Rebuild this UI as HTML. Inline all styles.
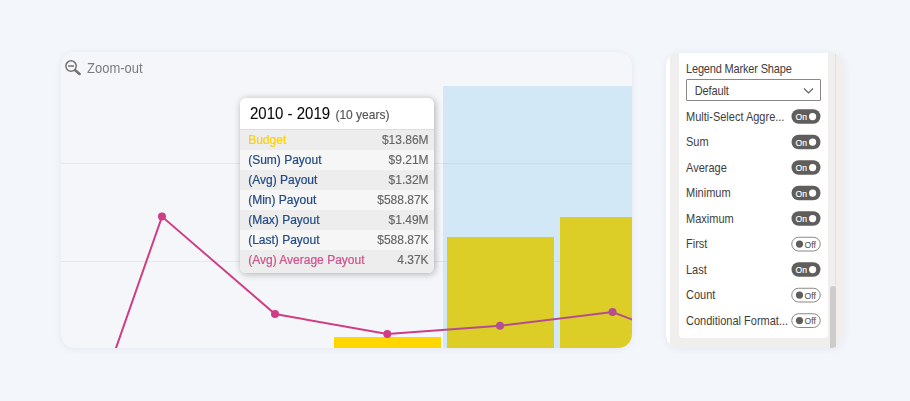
<!DOCTYPE html>
<html><head><meta charset="utf-8">
<style>
*{margin:0;padding:0;box-sizing:border-box}
html,body{width:910px;height:401px;overflow:hidden;background:#F3F6FB;font-family:"Liberation Sans",sans-serif}
.abs{position:absolute}
#card{position:absolute;left:61px;top:52px;width:571px;height:296px;border-radius:14px;background:#F5F6FA;box-shadow:0 1px 7px rgba(50,60,100,0.08);overflow:hidden}
.t{position:absolute;white-space:nowrap;line-height:1}
#card,#tip{will-change:transform}
#tip{position:absolute;left:240px;top:98px;width:194px;height:175px;background:#fff;border-radius:6px;box-shadow:1px 1px 7px rgba(0,0,0,0.30);overflow:hidden}
.row{position:absolute;left:0;width:194px;height:20px}
.row .l{position:absolute;left:8.2px;top:3.6px;-webkit-text-stroke:0.2px currentColor;font-size:12px;line-height:1;white-space:nowrap}
.row .v{position:absolute;right:5.4px;top:3.6px;-webkit-text-stroke:0.15px currentColor;font-size:12px;line-height:1;white-space:nowrap;color:#666}
.d{background:#EDEDED}.w{background:#F6F6F6}
.blue{color:#224A85}
#panel{position:absolute;left:666px;top:53px;width:177.5px;height:295px;border-radius:13px;background:#fff;box-shadow:0 1px 7px rgba(50,60,100,0.08);overflow:hidden}
.lab{position:absolute;left:20px;font-size:11px;line-height:1;color:#3E3D3C;white-space:nowrap;transform:scaleY(1.09);transform-origin:0 9.3px}
</style></head><body>
<div id="card">
  <!-- gridlines -->
  <div class="abs" style="left:0;top:111px;width:571px;height:1px;background:#E6E7EB"></div>
  <div class="abs" style="left:0;top:209px;width:571px;height:1px;background:#E6E7EB"></div>
  <!-- zoom icon -->
  <svg class="abs" style="left:0;top:0" width="40" height="40" viewBox="0 0 40 40">
    <circle cx="10.05" cy="14.05" r="5.2" fill="none" stroke="#737373" stroke-width="1.5"/>
    <line x1="7.1" y1="14.05" x2="13" y2="14.05" stroke="#737373" stroke-width="1.5"/>
    <line x1="14.2" y1="18.2" x2="18.6" y2="21.9" stroke="#737373" stroke-width="2.6" stroke-linecap="round"/>
  </svg>
  <div class="t" style="left:26px;top:9.6px;font-size:13px;color:#7C7C7C;transform:scaleY(1.09);transform-origin:0 11px">Zoom-out</div>
  <!-- bars -->
  <div class="abs" style="left:273px;top:285px;width:106.8px;height:20px;background:#FFD600"></div>
  <div class="abs" style="left:385.8px;top:185px;width:106.8px;height:120px;background:#FFD600"></div>
  <div class="abs" style="left:498.5px;top:164.8px;width:106.8px;height:140px;background:#FFD600"></div>
  <!-- line -->
  <svg class="abs" style="left:0;top:0" width="571" height="296" viewBox="61 52 571 296">
    <polyline points="49.25,538.7 162,216.6 275,314 387.3,334 500,325.8 612.5,312.1 725.3,355" fill="none" stroke="#CF3D84" stroke-width="2"/>
    <circle cx="162" cy="216.6" r="4" fill="#CF3D84"/>
    <circle cx="275" cy="314" r="4" fill="#CF3D84"/>
    <circle cx="387.3" cy="334" r="4" fill="#CF3D84"/>
    <circle cx="500" cy="325.8" r="4" fill="#CF3D84"/>
    <circle cx="612.5" cy="312.1" r="4" fill="#CF3D84"/>
  </svg>
  <!-- overlay -->
  <div class="abs" style="left:382.2px;top:33.5px;width:200px;height:270px;background:rgba(45,166,224,0.167)"></div>
</div>

<div id="tip">
  <div class="t" style="left:10px;top:7.6px;font-size:15px;color:#0A0A0A;-webkit-text-stroke:0.08px #111;transform:scaleY(1.07);transform-origin:0 12.7px">2010 - 2019</div>
  <div class="t" style="left:95.4px;top:10.5px;font-size:12px;color:#555;-webkit-text-stroke:0.15px #555;transform:scaleY(1.08);transform-origin:0 10.2px">(10 years)</div>
  <div class="abs" style="left:0;top:31px;width:194px;height:1px;background:#DDD"></div>
  <div class="row d" style="top:32px"><div class="l" style="color:#FFD000">Budget</div><div class="v">$13.86M</div></div>
  <div class="row w" style="top:52px"><div class="l blue">(Sum) Payout</div><div class="v">$9.21M</div></div>
  <div class="row d" style="top:72px"><div class="l blue">(Avg) Payout</div><div class="v">$1.32M</div></div>
  <div class="row w" style="top:92px"><div class="l blue">(Min) Payout</div><div class="v">$588.87K</div></div>
  <div class="row d" style="top:112px"><div class="l blue">(Max) Payout</div><div class="v">$1.49M</div></div>
  <div class="row w" style="top:132px"><div class="l blue">(Last) Payout</div><div class="v">$588.87K</div></div>
  <div class="row d" style="top:152px;height:23px"><div class="l" style="color:#D0508A">(Avg) Average Payout</div><div class="v">4.37K</div></div>
</div>

<div id="panel">
  <div class="abs" style="left:4px;top:0;width:174px;height:295px;background:#F0EFEE"></div>
  <div class="abs" style="left:169px;top:0;width:1px;height:295px;background:#E3E2E1"></div>
  <div class="abs" style="left:164px;top:233px;width:5.6px;height:70px;border-radius:3px;background:#CDCCCB"></div>
  <div class="abs" style="left:12.5px;top:0;width:149.5px;height:284.5px;background:#fff;border-radius:0 0 4px 4px"></div>
  <div class="lab" style="top:11.4px;letter-spacing:-0.17px">Legend Marker Shape</div>
  <div class="abs" style="left:20px;top:26.25px;width:134.5px;height:21.25px;border:1px solid #8A8886;border-radius:1px"></div>
  <div class="lab" style="left:28.8px;top:32.9px;letter-spacing:-0.15px">Default</div>
  <svg class="abs" style="left:137px;top:34px" width="12" height="8" viewBox="0 0 12 8"><polyline points="1,1.5 5.5,6 10,1.5" fill="none" stroke="#605E5C" stroke-width="1.1"/></svg>
  <div class="lab" style="top:58.6px">Multi-Select Aggre...</div>
  <div class="lab" style="top:84.1px">Sum</div>
  <div class="lab" style="top:109.6px">Average</div>
  <div class="lab" style="top:135.1px">Minimum</div>
  <div class="lab" style="top:160.6px">Maximum</div>
  <div class="lab" style="top:186.1px">First</div>
  <div class="lab" style="top:211.6px">Last</div>
  <div class="lab" style="top:237.1px">Count</div>
  <div class="lab" style="top:262.6px">Conditional Format...</div>
  <svg class="abs" style="left:0;top:0" width="178" height="295" viewBox="666 53 178 295" font-family="Liberation Sans, sans-serif">
    <rect x="791.5" y="109.25" width="29" height="14.5" rx="7.25" fill="#605E5C"/>
    <circle cx="812.6" cy="116.55" r="3.6" fill="#fff"/>
    <text x="795.6" y="120.45" font-size="8.6" fill="#fff" stroke="#fff" stroke-width="0.15">On</text>
    <rect x="791.5" y="134.75" width="29" height="14.5" rx="7.25" fill="#605E5C"/>
    <circle cx="812.6" cy="142.05" r="3.6" fill="#fff"/>
    <text x="795.6" y="145.95" font-size="8.6" fill="#fff" stroke="#fff" stroke-width="0.15">On</text>
    <rect x="791.5" y="160.25" width="29" height="14.5" rx="7.25" fill="#605E5C"/>
    <circle cx="812.6" cy="167.55" r="3.6" fill="#fff"/>
    <text x="795.6" y="171.45" font-size="8.6" fill="#fff" stroke="#fff" stroke-width="0.15">On</text>
    <rect x="791.5" y="185.75" width="29" height="14.5" rx="7.25" fill="#605E5C"/>
    <circle cx="812.6" cy="193.05" r="3.6" fill="#fff"/>
    <text x="795.6" y="196.95" font-size="8.6" fill="#fff" stroke="#fff" stroke-width="0.15">On</text>
    <rect x="791.5" y="211.25" width="29" height="14.5" rx="7.25" fill="#605E5C"/>
    <circle cx="812.6" cy="218.55" r="3.6" fill="#fff"/>
    <text x="795.6" y="222.45" font-size="8.6" fill="#fff" stroke="#fff" stroke-width="0.15">On</text>
    <rect x="791.75" y="237.25" width="28.5" height="13.75" rx="6.9" fill="#fff" stroke="#8A8886" stroke-width="1"/>
    <circle cx="799.5" cy="244.05" r="3.6" fill="#605E5C"/>
    <text x="804.5" y="247.95" font-size="8.6" fill="#605E5C" stroke="#605E5C" stroke-width="0.15">Off</text>
    <rect x="791.5" y="262.25" width="29" height="14.5" rx="7.25" fill="#605E5C"/>
    <circle cx="812.6" cy="269.55" r="3.6" fill="#fff"/>
    <text x="795.6" y="273.45" font-size="8.6" fill="#fff" stroke="#fff" stroke-width="0.15">On</text>
    <rect x="791.75" y="288.25" width="28.5" height="13.75" rx="6.9" fill="#fff" stroke="#8A8886" stroke-width="1"/>
    <circle cx="799.5" cy="295.05" r="3.6" fill="#605E5C"/>
    <text x="804.5" y="298.95" font-size="8.6" fill="#605E5C" stroke="#605E5C" stroke-width="0.15">Off</text>
    <rect x="791.75" y="313.75" width="28.5" height="13.75" rx="6.9" fill="#fff" stroke="#8A8886" stroke-width="1"/>
    <circle cx="799.5" cy="320.55" r="3.6" fill="#605E5C"/>
    <text x="804.5" y="324.45" font-size="8.6" fill="#605E5C" stroke="#605E5C" stroke-width="0.15">Off</text>
  </svg>
</div>
</body></html>
